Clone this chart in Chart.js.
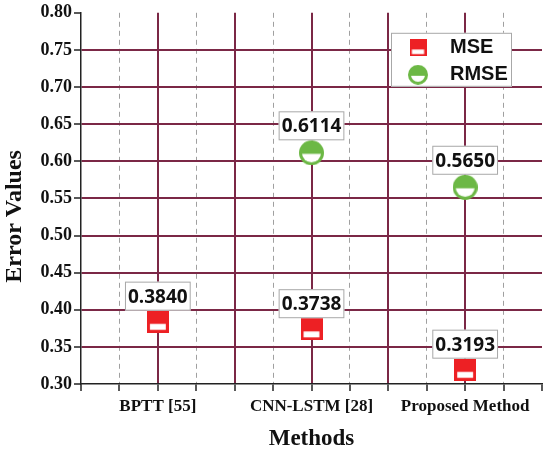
<!DOCTYPE html>
<html>
<head>
<meta charset="utf-8">
<script src="https://cdn.jsdelivr.net/npm/chart.js@4.4.1/dist/chart.umd.min.js"></script>
<style>
  body { margin: 0; background: #fff; }
  canvas { display: block; }
</style>
</head>
<body>
<canvas id="errorChart" width="550" height="453"></canvas>
<script>
// data
const categories = ['BPTT [55]', 'CNN-LSTM [28]', 'Proposed Method'];
const mseValues = [0.3840, 0.3738, 0.3193];
const rmseValues = [null, 0.6114, 0.5650];
const yRange = [0.30, 0.80];
const yStep = 0.05;

const RED = '#ed2024';
const GREEN = '#6cb845';
const MAROON = '#7b2846';
const NONE = 'rgba(0,0,0,0)';

// half-filled square marker
function mseMarker(size) {
  const c = document.createElement('canvas');
  c.width = c.height = size;
  const g = c.getContext('2d');
  g.fillStyle = RED;
  g.fillRect(0, 0, size, size);
  g.fillStyle = '#fff';
  g.fillRect(size * 0.14, size * 0.6, size * 0.72, size * 0.27);
  return c;
}

// half-filled circle marker
function rmseMarker(size) {
  const c = document.createElement('canvas');
  c.width = c.height = size;
  const g = c.getContext('2d');
  const r = size / 2;
  g.fillStyle = GREEN;
  g.beginPath();
  g.arc(r, r, r, 0, Math.PI * 2);
  g.fill();
  g.save();
  g.beginPath();
  g.rect(0, r + 1, size, size);
  g.clip();
  g.fillStyle = '#fff';
  g.beginPath();
  g.arc(r, r, r - 3, 0, Math.PI * 2);
  g.fill();
  g.restore();
  return c;
}

const mseImg = mseMarker(22);
const rmseImg = rmseMarker(25);
const mseLegendImg = mseMarker(17);
const rmseLegendImg = rmseMarker(20);

const toPoints = vals => vals.map((v, i) => ({ x: i + 1, y: v }));

// value boxes above each marker
const valueBoxes = {
  id: 'valueBoxes',
  afterDatasetsDraw(chart) {
    const ctx = chart.ctx;
    ctx.save();
    ctx.font = 'bold 19px "Open Sans"';
    ctx.textAlign = 'center';
    ctx.textBaseline = 'middle';
    chart.data.datasets.forEach((ds, di) => {
      const meta = chart.getDatasetMeta(di);
      const half = ds.pointStyle.height / 2;
      meta.data.forEach((pt, i) => {
        const v = ds.data[i].y;
        if (v == null) return;
        const txt = v.toFixed(4);
        const w = ctx.measureText(txt).width + 6;
        const h = 29;
        const bx = pt.x - w / 2;
        const by = pt.y - half - h;
        ctx.fillStyle = '#fff';
        ctx.fillRect(bx, by, w, h);
        ctx.strokeStyle = '#a8a8a8';
        ctx.lineWidth = 1;
        ctx.strokeRect(bx + 0.5, by + 0.5, w - 1, h - 1);
        ctx.fillStyle = '#111';
        ctx.fillText(txt, pt.x, by + h / 2 + 1);
      });
    });
    ctx.restore();
  }
};

// legend inside the plot, top right
const boxLegend = {
  id: 'boxLegend',
  afterDraw(chart) {
    const { ctx, chartArea } = chart;
    const x = chartArea.right - 151;
    const y = chartArea.top + 20;
    const w = 121, h = 54;
    ctx.save();
    ctx.fillStyle = '#fff';
    ctx.fillRect(x, y, w, h);
    ctx.strokeStyle = '#a8a8a8';
    ctx.lineWidth = 1;
    ctx.strokeRect(x + 0.5, y + 0.5, w - 1, h - 1);
    ctx.drawImage(mseLegendImg, x + 27 - 8.5, y + 15 - 8.5);
    ctx.drawImage(rmseLegendImg, x + 27 - 10, y + 42 - 10);
    ctx.fillStyle = '#111';
    ctx.font = 'bold 20px "Liberation Sans"';
    ctx.textBaseline = 'middle';
    ctx.fillText(chart.data.datasets[0].label, x + 59, y + 15);
    ctx.fillText(chart.data.datasets[1].label, x + 59, y + 42);
    ctx.restore();
  }
};

// rotated y title
const yTitle = {
  id: 'yTitle',
  afterDraw(chart) {
    const { ctx, chartArea } = chart;
    ctx.save();
    ctx.translate(15, (chartArea.top + chartArea.bottom) / 2 + 18);
    ctx.rotate(-Math.PI / 2);
    ctx.font = 'bold 24px "Liberation Serif"';
    ctx.fillStyle = '#111';
    ctx.textAlign = 'center';
    ctx.textBaseline = 'middle';
    ctx.fillText('Error Values', 0, 0);
    ctx.restore();
  }
};

const q = v => Math.round(v * 4);

new Chart(document.getElementById('errorChart'), {
  type: 'scatter',
  data: {
    datasets: [
      { label: 'MSE', data: toPoints(mseValues), pointStyle: mseImg },
      { label: 'RMSE', data: toPoints(rmseValues), pointStyle: rmseImg }
    ]
  },
  options: {
    responsive: false,
    animation: false,
    events: [],
    layout: { padding: { top: 12, right: 8, left: 0, bottom: 0 } },
    plugins: { legend: { display: false }, tooltip: { enabled: false } },
    scales: {
      x: {
        type: 'linear',
        min: 0.5,
        max: categories.length + 0.5,
        afterFit: s => { s.height = 69; },
        ticks: {
          stepSize: 0.25,
          autoSkip: false,
          maxRotation: 0,
          padding: 5,
          color: '#111',
          font: { family: 'Liberation Serif', size: 17, weight: 'bold' },
          callback: v => (Number.isInteger(v) && categories[v - 1]) ? categories[v - 1] : ''
        },
        grid: {
          color: c => {
            const k = c.tick ? q(c.tick.value) : 0;
            return (k % 2 === 0 && k > 2 && k < categories.length * 4 + 2) ? MAROON : NONE;
          },
          lineWidth: 2,
          tickColor: '#222',
          tickLength: 7,
          tickWidth: 1.5
        },
        border: { color: '#222', width: 1.5 },
        title: {
          display: true,
          text: 'Methods',
          color: '#111',
          padding: 0,
          font: { family: 'Liberation Serif', size: 23, weight: 'bold' }
        }
      },
      xd: {
        type: 'linear',
        position: 'bottom',
        min: 0.5,
        max: categories.length + 0.5,
        afterFit: s => { s.height = 0; },
        ticks: { stepSize: 0.25, display: false, autoSkip: false },
        grid: {
          color: c => (c.tick && q(c.tick.value) % 2 === 1) ? '#a0a0a0' : NONE,
          lineWidth: 1,
          drawTicks: false
        },
        border: { display: false, dash: [5, 4] }
      },
      y: {
        min: yRange[0],
        max: yRange[1],
        afterFit: s => { s.width = 81; },
        ticks: {
          stepSize: yStep,
          padding: 2,
          color: '#111',
          font: { family: 'Liberation Serif', size: 18, weight: 'bold' },
          callback: v => Number(v).toFixed(2)
        },
        grid: {
          color: c => {
            const k = c.tick ? Math.round(c.tick.value * 100) : 0;
            return (k > yRange[0] * 100 + 1 && k < yRange[1] * 100 - 1) ? MAROON : NONE;
          },
          lineWidth: 2,
          tickColor: '#222',
          tickLength: 7,
          tickWidth: 1.5
        },
        border: { color: '#222', width: 1.5 }
      }
    }
  },
  plugins: [valueBoxes, boxLegend, yTitle]
});
</script>
</body>
</html>
